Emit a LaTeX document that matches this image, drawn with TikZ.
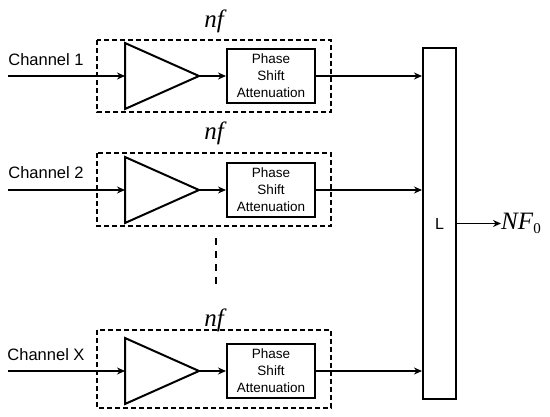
\documentclass[tikz,border=0pt]{standalone}
\usepackage{fontspec}
\setmainfont{Liberation Sans}
\newfontfamily\serifit{Liberation Serif}
\usetikzlibrary{arrows.meta}
\tikzset{
  sig/.style={line width=1.8pt,-{Stealth[length=8pt,width=7pt]}},
  solidline/.style={line width=2pt},
  dbox/.style={line width=1.6pt,dash pattern=on 5pt off 3pt},
  psbox/.style={draw,line width=2pt,minimum width=88pt,minimum height=54pt,inner sep=0pt,align=center,font=\fontsize{13.5}{17}\selectfont},
  chlabel/.style={font=\fontsize{16.5}{19}\selectfont},
  nflabel/.style={font=\serifit\itshape\fontsize{25}{27}\selectfont},
}
\begin{document}
\begin{tikzpicture}[x=1pt,y=-1pt]
\useasboundingbox (0,0) rectangle (550,416);
% combiner
\node[draw,line width=2pt,minimum width=33pt,minimum height=351pt,inner sep=0pt,font=\fontsize{16}{19}\selectfont] (L) at (439.5,223.5) {L};
\coordinate (Lout) at (L.east);
\node[anchor=west,inner sep=0pt,font=\serifit\fontsize{25}{27}\selectfont] (NF) at (501,223.5) {\textit{NF}\raisebox{-0.4ex}{\fontsize{15}{17}\selectfont 0}};
\draw[sig] (Lout) -- (Lout -| NF.west);
% rows
\foreach \i/\Y/\T/\B/\NY/\CY/\txt in {1/76/40/112/21/60/Channel 1, 2/190/153/226/133/173/Channel 2, 3/371/330/408/320/355/Channel X}{
  \draw[dbox] (97,\T) rectangle (331,\B);
  \node[nflabel] (nf\i) at (214,\NY) {nf};
  \node[chlabel] (ch\i) at (46,\CY) {\txt};
  \coordinate (in\i) at (8,\Y);
  \coordinate (al\i) at (125,\Y);
  \coordinate (at\i) at (199,\Y);
  \draw[solidline,line join=miter] (125,\Y-33) -- (at\i) -- (125,\Y+33) -- cycle;
  \node[psbox] (ps\i) at (271,\Y) {Phase\\Shift\\Attenuation};
  \coordinate (lin\i) at (L.west |- ps\i.east);
  \draw[sig] (in\i) -- (al\i);
  \draw[sig] (at\i) -- (ps\i.west);
  \draw[sig] (ps\i.east) -- (lin\i);
}
% ellipsis
\coordinate (d1) at (216,238);
\coordinate (d2) at (216,288);
\draw[line width=2.2pt,dash pattern=on 7pt off 6pt] (d1) -- (d2);
\end{tikzpicture}
\end{document}
